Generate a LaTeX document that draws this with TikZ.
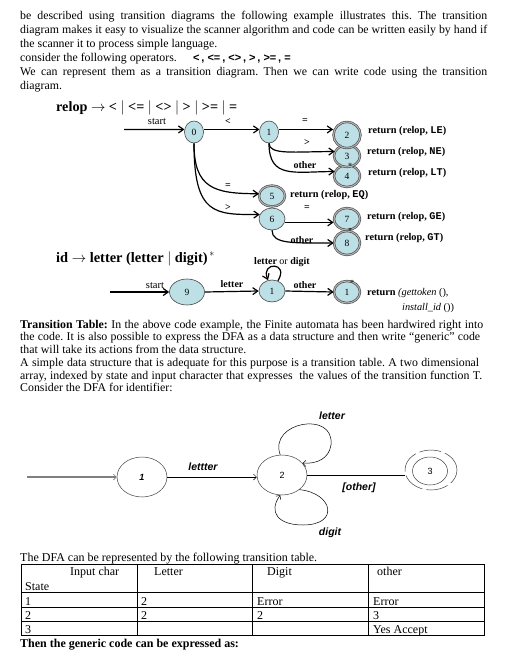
\documentclass[tikz,border=0pt]{standalone}
\usepackage{fontspec}
\setmainfont{Liberation Serif}
\newfontfamily\sansf{Liberation Sans}
\newfontfamily\monof{Liberation Mono}
\usetikzlibrary{arrows.meta,shapes.geometric}
\definecolor{stfill}{RGB}{188,224,229}
\definecolor{stdraw}{RGB}{70,70,70}
\newcommand{\body}{\fontsize{11.85}{14}\selectfont}
\newcommand{\jline}[2]{\makebox[#1pt][s]{#2}}
\frenchspacing
\begin{document}
\begin{tikzpicture}[x=1pt,y=-1pt,
  txt/.style={anchor=base west,inner sep=0pt,font=\body},
  st/.style={ellipse,draw=stdraw,fill=stfill,line width=0.6pt,inner sep=0pt,font=\fontsize{9.5}{9.5}\selectfont},
  acc/.style={st,double=black!30,double distance=1.1pt},
  heavy/.style={line width=1.2pt,-{Straight Barb[length=5pt,width=7pt]}},
  lab/.style={inner sep=0pt,font=\fontsize{10.5}{11}\selectfont},
  blab/.style={inner sep=0pt,font=\bfseries\fontsize{10}{10}\selectfont},
  ret/.style={anchor=west,inner sep=0pt,font=\bfseries\fontsize{10.3}{11}\selectfont},
  dst/.style={ellipse,draw=black!75,line width=0.5pt,inner sep=0pt,font=\sansf\fontsize{9}{9}\selectfont},
  thin/.style={line width=0.5pt,-{Straight Barb[length=3pt,width=6pt]}},
  dlab/.style={inner sep=0pt,font=\sansf\bfseries\itshape\fontsize{10.5}{11}\selectfont},
  tb/.style={anchor=base west,inner sep=0pt,font=\fontsize{12}{14}\selectfont}
]
\useasboundingbox[fill=white] (0,0) rectangle (518,659);

% ---------- top paragraph ----------
\node[txt] (t1) at (20,19.5) {\jline{467}{be described using transition diagrams the following example illustrates this. The transition}};
\node[txt] (t2) at (20,33.5) {\jline{467}{diagram makes it easy to visualize the scanner algorithm and code can be written easily by hand if}};
\node[txt] (t3) at (20,47.5) {the scanner it to process simple language.};
\node[txt] (t4) at (20,61.5) {consider the following operators.};
\node[txt] (t4b) at (193,61.5) {\bfseries\sansf\fontsize{11}{12}\selectfont <\,, <=\,, <>\,, >\,, >=\,, =};
\node[txt] (t5) at (20,75.5) {\jline{467}{We can represent them as a transition diagram. Then we can write code using the transition}};
\node[txt] (t6) at (20,89.5) {diagram.};

% ---------- relop ----------
\node[txt,font=\bfseries\fontsize{14.2}{15}\selectfont] (relop) at (56,111)
  {relop $\rightarrow$ < $\big|$ <= $\big|$ <> $\big|$ > $\big|$ >= $\big|$ =};

\node[st,minimum width=19pt,minimum height=22pt] (n0) at (194,132) {0};
\node[st,minimum width=19pt,minimum height=22pt] (n1) at (269,132) {1};
\node[acc,minimum width=26pt,minimum height=22pt] (n4) at (347,176) {4};
\node[acc,minimum width=26pt,minimum height=22pt] (n3) at (347,156) {3};
\node[acc,minimum width=27pt,minimum height=26pt] (n2) at (347,135) {2};
\node[acc,minimum width=26pt,minimum height=21pt] (n5) at (272,196) {5};
\node[st,minimum width=26pt,minimum height=22pt] (n6) at (272,219) {6};
\node[acc,minimum width=26pt,minimum height=24pt] (n8) at (347,243) {8};
\node[acc,minimum width=26pt,minimum height=22pt] (n7) at (347,219) {7};
\node[inner sep=0pt,font=\fontsize{8}{8}\selectfont] (m4) at (350,166) {*};
\node[inner sep=0pt,font=\fontsize{8}{8}\selectfont] (m8) at (350,231) {*};

\node[ret] (r2) at (368,131) {return (relop, {\monof\bfseries LE})};
\node[ret] (r3) at (367,152) {return (relop, {\monof\bfseries NE})};
\node[ret] (r4) at (368,173) {return (relop, {\monof\bfseries LT})};
\node[ret] (r5) at (290,195) {return (relop, {\monof\bfseries EQ})};
\node[ret] (r7) at (367,217) {return (relop, {\monof\bfseries GE})};
\node[ret] (r8) at (365,238) {return (relop, {\monof\bfseries GT})};

\coordinate (s0) at (124,129.5);
\draw[heavy] (s0) -- (n0.165);
\node[lab] (ls0) at (157,122) {start};
\draw[heavy] (n0.15) -- (n1.165);
\node[blab] (l01) at (228,122) {<};
\draw[heavy] (n0.south) .. controls +(0,45) and +(-45,0) .. (n5.170);
\node[blab] (l05) at (228,186) {=};
\draw[heavy] (n0.south) .. controls +(0,72) and +(-45,0) .. (n6.160);
\node[blab] (l06) at (228,208) {>};
\draw[heavy] (n1.15) -- (n1.15 -| n2.west);
\node[blab] (l12) at (305,121) {=};
\draw[heavy] (n1.south) .. controls +(0,12) and +(-40,0) .. (n3.160);
\node[blab] (l13) at (307,143) {>};
\draw[heavy] (n1.south) .. controls +(0,36) and +(-40,0) .. (n4.160);
\node[blab] (l14) at (305,165) {other};
\draw[heavy] (n6.-15) -- (n6.-15 -| n7.west);
\node[blab] (l67) at (307,208) {=};
\draw[heavy] (n6.south) .. controls +(0,14) and +(-40,0) .. (n8.west);
\node[blab] (l68) at (302,240) {other};

% ---------- id ----------
\node[txt,font=\bfseries\fontsize{14.4}{15}\selectfont] (idl) at (56,262)
  {id $\rightarrow$ letter (letter $\big|$ digit)$^{\,*}$};
\node[st,minimum width=35pt,minimum height=26pt] (n9) at (187,292) {9};
\node[st,minimum width=26pt,minimum height=22pt] (n10) at (272,291) {1};
\node[acc,minimum width=26pt,minimum height=22pt] (n11) at (347,292) {1};
\node[inner sep=0pt,font=\fontsize{8}{8}\selectfont] (m11) at (352,283) {*};
\coordinate (s9) at (110,292);
\draw[heavy] (s9) -- (n9.west);
\node[lab] (ls9) at (155,286) {start};
\draw[heavy] (n9.east) -- (n10.west);
\node[blab] (l910) at (232,284) {letter};
\draw[heavy] (n10.60) .. controls +(12,-19) and +(-8,-19) .. (n10.110);
\node[inner sep=0pt,anchor=base,font=\fontsize{10}{10}\selectfont] (lld) at (282,264) {\textbf{letter} or \textbf{digit}};
\draw[heavy] (n10.east) -- (n11.west);
\node[blab] (l1011) at (305,285) {other};
\node[inner sep=0pt,anchor=base west,font=\fontsize{10.3}{11}\selectfont] (rid1) at (367,295) {\textbf{return} \textit{(gettoken} (),};
\node[inner sep=0pt,anchor=base west,font=\fontsize{10.3}{11}\selectfont] (rid2) at (402,310) {\textit{install\_id} ())};

% ---------- second paragraph ----------
\node[txt] (p1) at (20,328) {\jline{463}{\textbf{Transition Table:} In the above code example, the Finite automata has been hardwired right into}};
\node[txt] (p2) at (20,340.5) {\jline{460}{the code. It is also possible to express the DFA as a data structure and then write “generic” code}};
\node[txt] (p3) at (20,353) {that will take its actions from the data structure.};
\node[txt] (p4) at (20,366.5) {\jline{459}{A simple data structure that is adequate for this purpose is a transition table. A two dimensional}};
\node[txt] (p5) at (20,379) {\jline{462}{array, indexed by state and input character that expresses \ the values of the transition function T.}};
\node[txt] (p6) at (20,391.5) {Consider the DFA for identifier:};

% ---------- DFA ----------
\node[dst,minimum width=50pt,minimum height=40pt,font=\sansf\bfseries\itshape\fontsize{9}{9}\selectfont] (d1) at (142,477) {1};
\node[dst,minimum width=50pt,minimum height=40pt] (d2) at (282,475) {2};
\node[dst,minimum width=35pt,minimum height=28pt] (d3) at (430,471) {3};
\node[ellipse,draw=black!75,line width=0.5pt,dash pattern=on 22pt off 4pt,minimum width=52pt,minimum height=40pt] (d3o) at (431,470) {};
\coordinate (sd) at (27,477);
\draw[line width=1.2pt,draw=black!50,-{Straight Barb[length=3pt,width=6pt,line width=0.6pt]}] (sd) -- (d1.west);
\draw[thin] (d1.east) -- (d1.east -| d2.west);
\node[dlab] (ld12) at (203,467) {lettter};
\draw[thin] (d2.95) .. controls (268,422) and (335,410) .. (331,445) .. controls (329,458) and (318,464) .. (d2.30);
\node[dlab] (ldl) at (332,416) {letter};
\draw[thin] (d2.-40) .. controls (333,493) and (340,525) .. (303,525) .. controls (278,525) and (268,512) .. (d2.-95);
\node[dlab] (ldd) at (330,533) {digit};
\draw[line width=0.5pt] (d2.east) -- (d2.east -| d3o.west);
\node[dlab] (ldo) at (359,488) {[other]};

% ---------- table ----------
\node[tb] (q1) at (20,561) {The DFA can be represented by the following transition table.};
\draw[line width=0.7pt] (21,564) rectangle (484,635);
\draw[line width=0.7pt] (21,592) -- (484,592) (21,607) -- (484,607) (21,621) -- (484,621);
\draw[line width=0.7pt] (137,564) -- (137,635) (252,564) -- (252,635) (368,564) -- (368,635);
\node[tb] (h1) at (70,575) {Input char};
\node[tb] (h0) at (25,590) {State};
\node[tb] (h2) at (154,575) {Letter};
\node[tb] (h3) at (267,575) {Digit};
\node[tb] (h4) at (377,575) {other};
\node[tb] (a1) at (25,605) {1};
\node[tb] (a2) at (141,605) {2};
\node[tb] (a3) at (257,605) {Error};
\node[tb] (a4) at (373,605) {Error};
\node[tb] (b1) at (25,619) {2};
\node[tb] (b2) at (141,619) {2};
\node[tb] (b3) at (257,619) {2};
\node[tb] (b4) at (373,619) {3};
\node[tb] (c1) at (25,633) {3};
\node[tb] (c4) at (373,633) {Yes Accept};
\node[tb,font=\bfseries\fontsize{12}{14}\selectfont] (q2) at (20,647) {Then the generic code can be expressed as:};
\end{tikzpicture}
\end{document}
